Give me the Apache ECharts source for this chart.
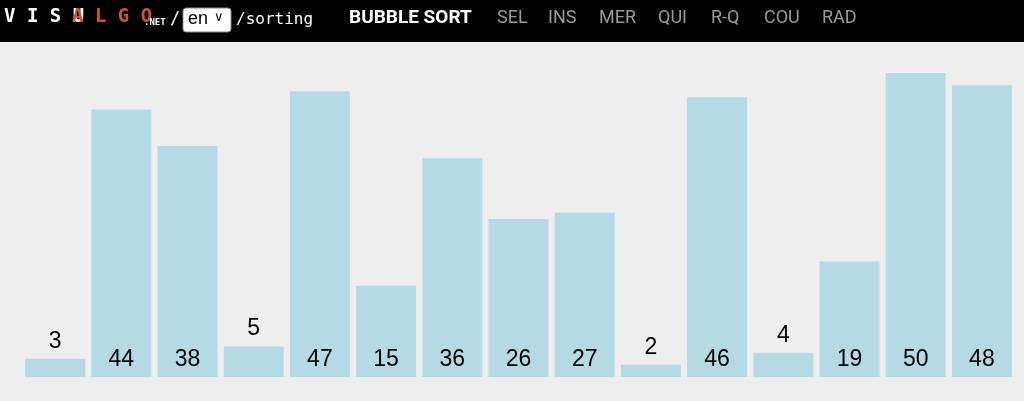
<!DOCTYPE html>
<html><head><meta charset="utf-8">
<script src="https://cdn.jsdelivr.net/npm/echarts@6/dist/echarts.min.js"></script>
<style>html,body{margin:0;padding:0;background:#eee}#main{width:1024px;height:401px}</style>
</head><body><div id="main"></div>
<script>
var categories = ['b1','b2','b3','b4','b5','b6','b7','b8','b9','b10','b11','b12','b13','b14','b15'];
var values = [3, 44, 38, 5, 47, 15, 36, 26, 27, 2, 46, 4, 19, 50, 48];
var menuItems = ['SEL', 'INS', 'MER', 'QUI', 'R-Q', 'COU', 'RAD'];
var menuX = [497, 548, 599, 658, 711, 764, 822];

var chart = echarts.init(document.getElementById('main'));

var seriesData = values.map(function(v){
    var small = v < 10;
    return {
        value: v,
        label: small ? {position: 'top', distance: 6} : {position: 'insideBottom', distance: 6}
    };
});

var graphics = [
    {type: 'rect', shape: {x: 0, y: 0, width: 1024, height: 42}, style: {fill: '#000'}},
    {type: 'text', left: 4, top: 8, style: {text: 'V I S U', fill: '#fff', font: 'bold 19px "DejaVu Sans Mono"'}},
    {type: 'text', left: 72, top: 8, style: {text: 'A L G O', fill: '#d0513b', font: 'bold 19px "DejaVu Sans Mono"'}},
    {type: 'text', left: 144, top: 18, style: {text: '.NET', fill: '#fff', font: 'bold 9px "DejaVu Sans Mono"'}},
    {type: 'text', left: 170, top: 11, style: {text: '/', fill: '#fff', font: '17px "DejaVu Sans Mono"'}},
    {type: 'rect', shape: {x: 183, y: 8, width: 48, height: 24, r: 3}, style: {fill: '#fff', stroke: '#888'}},
    {type: 'text', left: 188, top: 10, style: {text: 'en', fill: '#000', font: '18px "Liberation Sans"'}},
    {type: 'text', left: 214, top: 11, style: {text: '\u2228', fill: '#000', font: '13px "DejaVu Sans"'}},
    {type: 'text', left: 236, top: 12, style: {text: '/sorting', fill: '#fff', font: '16px "DejaVu Sans Mono"'}},
    {type: 'text', left: 349, top: 9, style: {text: 'BUBBLE SORT', fill: '#fff', font: 'bold 19px "Roboto"'}}
];
menuItems.forEach(function(m, i){
    graphics.push({type: 'text', left: menuX[i], top: 9, style: {text: m, fill: '#9a9a9a', font: '18px "Roboto"'}});
});

chart.setOption({
    backgroundColor: '#eeeeee',
    animation: false,
    grid: {left: 22, right: 9, top: 42, bottom: 24},
    xAxis: {type: 'category', data: categories, show: false},
    yAxis: {type: 'value', min: 0, max: 55.1, show: false},
    graphic: graphics,
    series: [{
        type: 'bar',
        data: seriesData,
        barWidth: 60,
        itemStyle: {color: '#b5d9e5'},
        label: {show: true, color: '#000', fontSize: 23, fontFamily: 'Liberation Sans'}
    }]
});
</script></body></html>
